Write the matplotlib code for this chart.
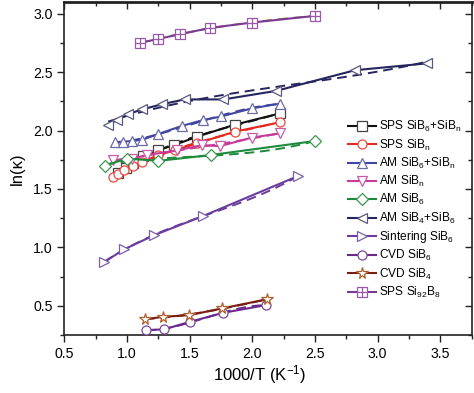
import numpy as np
import matplotlib
matplotlib.use("Agg")
import matplotlib.pyplot as plt
from matplotlib.ticker import MultipleLocator
from matplotlib.legend_handler import HandlerTuple

plt.rcParams['font.family'] = ['Liberation Sans', 'DejaVu Sans']
plt.rcParams['mathtext.fontset'] = 'custom'
plt.rcParams['mathtext.rm'] = 'Liberation Sans'
plt.rcParams['mathtext.it'] = 'Liberation Sans'

# ---- data ----
sps_mix_x = [0.93, 0.99, 1.05, 1.13, 1.245, 1.375, 1.557, 1.86, 2.22]
sps_mix_y = [1.64, 1.68, 1.72, 1.78, 1.83, 1.875, 1.946, 2.05, 2.146]

sps_n_x = [0.89, 0.93, 0.98, 1.05, 1.12, 1.25, 1.38, 1.56, 1.86, 2.22]
sps_n_y = [1.60, 1.63, 1.66, 1.70, 1.73, 1.79, 1.83, 1.89, 1.99, 2.07]

am_mix_x = [0.905, 0.97, 1.04, 1.12, 1.25, 1.44, 1.61, 1.75, 2.0, 2.22]
am_mix_y = [1.90, 1.905, 1.91, 1.92, 1.97, 2.04, 2.09, 2.12, 2.19, 2.23]

am_n_x = [0.89, 1.04, 1.16, 1.40, 1.60, 1.74, 2.0, 2.22]
am_n_y = [1.745, 1.76, 1.79, 1.83, 1.875, 1.866, 1.94, 1.975]

am_6_x = [0.825, 1.0, 1.25, 1.668, 2.5]
am_6_y = [1.70, 1.76, 1.74, 1.79, 1.91]

am_46_x = [0.85, 0.92, 1.01, 1.12, 1.28, 1.46, 1.77, 2.19, 2.82, 3.39]
am_46_y = [2.05, 2.09, 2.14, 2.18, 2.225, 2.266, 2.266, 2.339, 2.516, 2.574]

sint_x = [0.82, 0.976, 1.218, 1.605, 2.368]
sint_y = [0.876, 0.982, 1.105, 1.267, 1.612]

cvd6_x = [1.15, 1.296, 1.503, 1.769, 2.11]
cvd6_y = [0.292, 0.298, 0.363, 0.44, 0.506]

cvd4_x = [1.144, 1.29, 1.498, 1.761, 2.115]
cvd4_y = [0.384, 0.406, 0.42, 0.478, 0.555]

si92_x = [1.104, 1.25, 1.423, 1.663, 2.0, 2.5]
si92_y = [2.75, 2.784, 2.824, 2.878, 2.924, 2.981]

labels = ['SPS SiB$_\\mathrm{6}$+SiB$_\\mathrm{n}$', 'SPS SiB$_\\mathrm{n}$',
          'AM SiB$_\\mathrm{6}$+SiB$_\\mathrm{n}$', 'AM SiB$_\\mathrm{n}$',
          'AM SiB$_\\mathrm{6}$', 'AM SiB$_\\mathrm{4}$+SiB$_\\mathrm{6}$',
          'Sintering SiB$_\\mathrm{6}$', 'CVD SiB$_\\mathrm{6}$',
          'CVD SiB$_\\mathrm{4}$', 'SPS Si$_\\mathrm{92}$B$_\\mathrm{8}$']

fig = plt.figure(figsize=(4.74, 3.93), dpi=100)
ax = fig.add_axes([0.1357, 0.1476, 0.8593, 0.8474])

series = [
    (sps_mix_x, sps_mix_y, '#111111', '#444444', 's', '#111111'),
    (sps_n_x, sps_n_y, '#e8281e', '#e84a40', 'o', '#e8281e'),
    (am_mix_x, am_mix_y, '#4346a0', '#6a6caa', '^', '#4346a0'),
    (am_n_x, am_n_y, '#c83a9a', '#c85aa8', 'v', '#c83a9a'),
    (am_6_x, am_6_y, '#1e8a3c', '#3a9a50', 'D', '#1e8a3c'),
    (am_46_x, am_46_y, '#26265e', '#5a5a80', '<', '#26265e'),
    (sint_x, sint_y, '#6a3c9e', '#7a60a8', '>', '#6a3c9e'),
    (cvd6_x, cvd6_y, '#6a2a8c', '#7a4a9a', 'o', '#6a2a8c'),
    (cvd4_x, cvd4_y, '#7a1e12', '#b06030', '*', '#7a1e12'),
    (si92_x, si92_y, '#7a3a94', '#9a5aaa', 's', '#a08a40'),
]

handles = []
for i, (x, y, lc, mc, mk, dc) in enumerate(series):
    xa = np.array(x); ya = np.array(y)
    # dashed fit line from the data
    p = np.polyfit(xa, ya, 3)
    xf = np.linspace(xa.min(), xa.max(), 80)
    ax.plot(xf, np.polyval(p, xf), ls=(0, (5, 3)), color=dc, lw=1.4, zorder=2)
    ms = 6.5
    if mk == 'D':
        ms = 6
    if mk == '*':
        ms = 8.5
    if mk in ('^', 'v', '<', '>'):
        ms = 7.5
    l, = ax.plot(x, y, color=lc, lw=1.5, marker=mk, ms=ms, mfc='white',
                 mec=mc, mew=0.9, zorder=3)
    if i == 9:
        l2, = ax.plot(x, y, ls='none', marker='+', ms=6.5, mec=mc, mew=0.9, zorder=4)
        handles.append((l, l2))
    else:
        handles.append(l)

ax.set_xlim(0.5, 3.75)
ax.set_ylim(0.25, 3.1)
ax.xaxis.set_major_locator(MultipleLocator(0.5))
ax.xaxis.set_minor_locator(MultipleLocator(0.25))
ax.yaxis.set_major_locator(MultipleLocator(0.5))
ax.yaxis.set_minor_locator(MultipleLocator(0.25))
ax.tick_params(which='both', direction='out', top=True, right=True, labelsize=10.2,
               width=1.0, color='#222222')
ax.tick_params(which='major', length=5)
ax.tick_params(which='minor', length=3)
for s in ax.spines.values():
    s.set_linewidth(1.2)
    s.set_color('#222222')
ax.spines['top'].set_linewidth(2.0)
# top/right ticks point inward
for t in ax.xaxis.get_ticklines(minor=False)[1::2] + ax.xaxis.get_ticklines(minor=True)[1::2]:
    t.set_marker(matplotlib.lines.TICKDOWN)
for t in ax.yaxis.get_ticklines(minor=False)[1::2] + ax.yaxis.get_ticklines(minor=True)[1::2]:
    t.set_marker(matplotlib.lines.TICKLEFT)

ax.set_xlabel('1000/T (K$^{-1}$)', fontsize=12)
ax.xaxis.set_label_coords(0.48, -0.085)
ax.set_ylabel('ln(κ)', fontsize=12, labelpad=6)

leg = ax.legend(handles, labels, loc='upper left', bbox_to_anchor=(0.735, 0.697),
                bbox_transform=fig.transFigure, frameon=False, fontsize=8.6,
                handlelength=2.3, handletextpad=0.25, labelspacing=0.27,
                borderaxespad=0, borderpad=0, numpoints=1,
                handler_map={tuple: HandlerTuple(ndivide=1)})

fig.savefig('out.png', dpi=100)
